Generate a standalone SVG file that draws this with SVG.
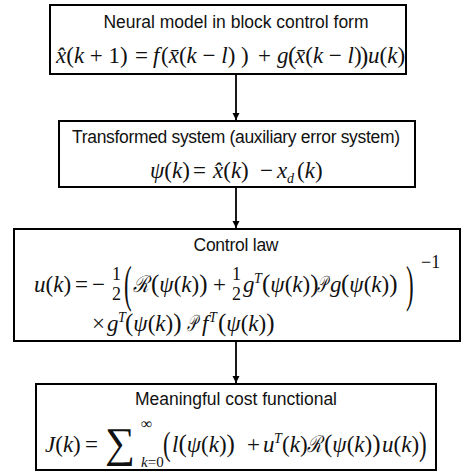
<svg xmlns="http://www.w3.org/2000/svg" width="474" height="474" viewBox="0 0 474 474">
<style>
.box{fill:#fff;stroke:#000;stroke-width:2}
.t{font-family:"Liberation Sans",Arial,sans-serif;font-size:17.5px;fill:#111;text-anchor:middle}
.m{font-family:"Liberation Serif","Times New Roman",serif;font-size:23px;fill:#111}
.i{font-style:italic}
.s{font-size:14px}
.f{font-size:18px}
.o{font-size:25px}
.c{stroke:#000;stroke-width:1.8;fill:none}
</style>
<defs>
<marker id="ah" viewBox="0 0 10 10" refX="10" refY="5" markerWidth="4" markerHeight="4" orient="auto" markerUnits="strokeWidth">
<path d="M0,0 L10,5 L0,10 Z" fill="#000"/>
</marker>
</defs>
<rect width="474" height="474" fill="#fff"/>
<g id="connectors">
<line class="c" x1="236" y1="74" x2="236" y2="120" marker-end="url(#ah)"/>
<line class="c" x1="236" y1="187" x2="236" y2="228" marker-end="url(#ah)"/>
<line class="c" x1="236" y1="341" x2="236" y2="383" marker-end="url(#ah)"/>
</g>
<g id="node1">
<rect class="box" x="50" y="5" width="356" height="69"/>
<text class="t" x="236" y="27.5" textLength="265">Neural model in block control form</text>
<text class="m" y="63"><tspan x="56" class="i">x̂</tspan>(<tspan class="i">k</tspan> + 1)<tspan x="135">=</tspan><tspan x="153" class="i">f</tspan><tspan x="161">(</tspan><tspan class="i">x̄</tspan>(<tspan class="i">k</tspan> − <tspan class="i">l</tspan>) )<tspan x="258">+</tspan><tspan x="277" class="i">g</tspan><tspan class="o" x="288" dy="1">(</tspan><tspan class="i" x="295" dy="-1">x̄</tspan>(<tspan class="i">k</tspan> − <tspan class="i">l</tspan>)<tspan class="o" x="360" dy="1">)</tspan><tspan class="i" x="368" dy="-1">u</tspan>(<tspan class="i">k</tspan>)</text>
</g>
<g id="node2">
<rect class="box" x="59" y="121" width="356" height="66"/>
<text class="t" x="236" y="143" textLength="328">Transformed system (auxiliary error system)</text>
<text class="m" y="178"><tspan x="150" class="i">ψ</tspan>(<tspan class="i">k</tspan>)<tspan x="193">=</tspan><tspan x="213" class="i">x̂</tspan>(<tspan class="i">k</tspan>)<tspan x="260">−</tspan><tspan x="277" class="i">x</tspan><tspan class="i s" x="287" y="183">d</tspan><tspan x="297" y="178">(</tspan><tspan class="i">k</tspan>)</text>
</g>
<g id="node3">
<rect class="box" x="14" y="229" width="446" height="112"/>
<text class="t" x="236" y="251" textLength="85">Control law</text>
<text class="m" y="292"><tspan x="34" class="i">u</tspan>(<tspan class="i">k</tspan>)<tspan x="75">=</tspan><tspan x="92">−</tspan><tspan class="f" x="112" y="280">1</tspan><tspan class="f" x="112" y="300">2</tspan><tspan x="133" y="292" class="i" textLength="16" lengthAdjust="spacingAndGlyphs">ℛ</tspan><tspan class="o" x="151">(</tspan><tspan class="i">ψ</tspan>(<tspan class="i">k</tspan>)<tspan class="o">)</tspan><tspan x="213">+</tspan><tspan class="f" x="232" y="280">1</tspan><tspan class="f" x="232" y="300">2</tspan><tspan x="243" y="292" class="i">g</tspan><tspan class="i s" x="254" y="283">T</tspan><tspan class="o" x="262" y="292">(</tspan><tspan class="i">ψ</tspan>(<tspan class="i">k</tspan>)<tspan class="o">)</tspan><tspan class="i" x="317" textLength="10" lengthAdjust="spacingAndGlyphs">𝒫</tspan><tspan class="i" x="330">g</tspan><tspan class="o" x="341">(</tspan><tspan class="i">ψ</tspan>(<tspan class="i">k</tspan>)<tspan class="o">)</tspan><tspan class="f" x="421" y="268">−1</tspan></text>
<text class="m" transform="translate(124,301.3) scale(1,2.24)">(</text>
<text class="m" transform="translate(406,301.3) scale(1,2.24)">)</text>
<text class="m" y="331"><tspan x="92">×</tspan><tspan x="107" class="i">g</tspan><tspan class="i s" x="118" y="322">T</tspan><tspan class="o" x="125" y="331">(</tspan><tspan class="i">ψ</tspan>(<tspan class="i">k</tspan>)<tspan class="o">)</tspan><tspan class="i" x="187" textLength="10" lengthAdjust="spacingAndGlyphs">𝒫</tspan><tspan class="i" x="202">f</tspan><tspan class="i s" x="209" y="322">T</tspan><tspan class="o" x="218" y="331">(</tspan><tspan class="i">ψ</tspan>(<tspan class="i">k</tspan>)<tspan class="o">)</tspan></text>
</g>
<g id="node4">
<rect class="box" x="36" y="384" width="400" height="86"/>
<text class="t" x="236" y="405" textLength="202">Meaningful cost functional</text>
<text class="m" y="452"><tspan x="45" class="i">J</tspan>(<tspan class="i">k</tspan>)<tspan x="85">=</tspan><tspan x="105" y="457" style="font-size:42px">∑</tspan><tspan x="141" y="429" style="font-size:16px">∞</tspan><tspan x="141" y="467" style="font-size:15px"><tspan class="i">k</tspan>=0</tspan><tspan x="172" y="452" class="i">l</tspan><tspan class="o">(</tspan><tspan class="i">ψ</tspan>(<tspan class="i">k</tspan>)<tspan class="o">)</tspan><tspan x="247">+</tspan><tspan x="263" class="i">u</tspan><tspan class="i s" x="274" y="443">T</tspan><tspan x="282" y="452">(</tspan><tspan class="i">k</tspan>)<tspan x="307" class="i" textLength="15" lengthAdjust="spacingAndGlyphs">ℛ</tspan><tspan class="o" x="324">(</tspan><tspan class="i">ψ</tspan>(<tspan class="i">k</tspan>)<tspan class="o">)</tspan><tspan x="382" class="i">u</tspan>(<tspan class="i">k</tspan>)</text>
<text class="m" transform="translate(163,455.3) scale(1,1.46)">(</text>
<text class="m" transform="translate(419,455.3) scale(1,1.46)">)</text>
</g>
</svg>
